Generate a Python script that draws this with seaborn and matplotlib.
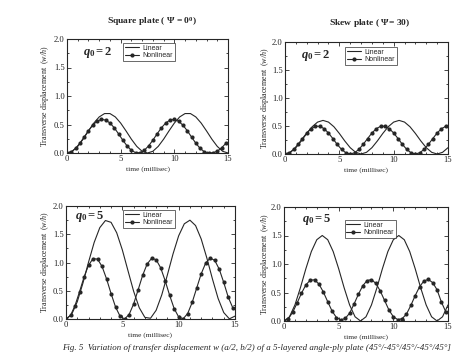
import matplotlib
matplotlib.use("Agg")
import matplotlib.pyplot as plt
import seaborn as sns
import pandas as pd
from matplotlib.ticker import MultipleLocator

# ---------------- data ----------------
t_lin = [0.0, 0.5, 1.0, 1.5, 2.0, 2.5, 3.0, 3.5, 4.0, 4.5, 5.0, 5.5, 6.0, 6.5, 7.0, 7.5,
         8.0, 8.5, 9.0, 9.5, 10.0, 10.5, 11.0, 11.5, 12.0, 12.5, 13.0, 13.5, 14.0, 14.5, 15.0]
t_nl = [0.0, 0.4, 0.8, 1.2, 1.6, 2.0, 2.4, 2.8, 3.2, 3.6, 4.0, 4.4, 4.8, 5.2, 5.6, 6.0,
        6.4, 6.8, 7.2, 7.6, 8.0, 8.4, 8.8, 9.2, 9.6, 10.0, 10.4, 10.8, 11.2, 11.6, 12.0,
        12.4, 12.8, 13.2, 13.6, 14.0, 14.4, 14.8]

sq_q2_linear = [0, .030, .116, .242, .387, .525, .633, .692, .692, .633, .525, .387, .242, .116, .030, 0,
                .030, .116, .242, .387, .525, .633, .692, .692, .633, .525, .387, .242, .116, .030, 0]
sq_q2_nonlinear = [0, .021, .082, .172, .281, .392, .488, .557, .589, .578, .527, .443, .337, .225, .124,
                   .047, .005, .005, .047, .124, .225, .337, .443, .527, .578, .589, .557, .488, .392,
                   .281, .172, .082, .021, 0, .005, .03, .09, .17]

sk_q2_linear = [0, .030, .113, .233, .367, .487, .570, .600, .570, .487, .367, .233, .113, .030, 0,
                .030, .113, .233, .367, .487, .570, .600, .570, .487, .367, .233, .113, .030, 0, .030, .113]
sk_q2_nonlinear = [0, .022, .083, .173, .276, .375, .452, .495, .495, .452, .375, .276, .173, .083, .022,
                   0, .022, .083, .173, .276, .375, .452, .495, .495, .452, .375, .276, .173, .083, .022,
                   0, .022, .083, .173, .276, .375, .452, .495]

sq_q5_linear = [0, .080, .305, .633, 1.006, 1.355, 1.617, 1.743, 1.711, 1.526, 1.223, .856, .493, .200,
                .029, .013, .154, .427, .781, 1.152, 1.473, 1.685, 1.749, 1.654, 1.416, 1.080, .707,
                .364, .114, .003, .051]
sq_q5_nonlinear = [0, .063, .237, .482, .741, .952, 1.068, 1.060, .930, .710, .450, .211, .049, .001,
                   .079, .265, .515, .771, .973, 1.074, 1.050, .907, .678, .418, .185, .036, .004,
                   .097, .294, .548, .800, .992, 1.078, 1.038, .882, .647, .386, .20]

sk_q5_linear = [0, .074, .282, .583, .917, 1.218, 1.426, 1.5, 1.426, 1.218, .917, .583, .282, .074, 0,
                .074, .282, .583, .917, 1.218, 1.426, 1.5, 1.426, 1.218, .917, .583, .282, .074, 0,
                .074, .282]
sk_q5_nonlinear = [0, .041, .155, .316, .488, .633, .717, .722, .647, .508, .338, .173, .06, .02, .045,
                   .137, .295, .467, .617, .710, .726, .660, .528, .360, .192, .075, .025, .04, .121,
                   .273, .446, .601, .703, .729, .673, .548, .33, .16]

col_titles = ["Square plate ( $\\Psi$ = 0$^0$)", "Skew plate ( $\\Psi$= 30)"]
load_labels = ["$q_0 = 2$", "$q_0 = 5$"]
series_names = ["Linear", "Nonlinear"]
x_label = "time (millisec)"
y_label = "Transverse displacement  ($\\mathsf{w/h}$)"
caption = ("Fig. 5  Variation of transfer displacement w (a/2, b/2) of a 5-layered angle-ply plate "
           "(45\u00b0/-45\u00b0/45\u00b0/-45\u00b0/45\u00b0]")

# ---------------- style ----------------
sns.set_theme(style="ticks")
plt.rcParams["font.family"] = ["Liberation Serif", "DejaVu Serif"]
plt.rcParams["mathtext.fontset"] = "custom"
plt.rcParams["mathtext.rm"] = "Liberation Serif:bold"
plt.rcParams["mathtext.it"] = "Liberation Serif:italic:bold"
plt.rcParams["mathtext.bf"] = "Liberation Serif:bold"
plt.rcParams["mathtext.sf"] = "Liberation Serif:italic"

W, H = 474, 353
fig = plt.figure(figsize=(W / 100, H / 100), dpi=100)
fig.patch.set_facecolor("white")

def px_axes(l, r, t, b):
    return fig.add_axes([l / W, (H - b) / H, (r - l) / W, (b - t) / H])

panels = [
    dict(box=(67, 228, 39, 153), lin=sq_q2_linear, nl=sq_q2_nonlinear, q=0, leg=(0.35, 0.965),
         qpos=(0.10, 0.885), ylab_x=45),
    dict(box=(285, 448, 42, 154), lin=sk_q2_linear, nl=sk_q2_nonlinear, q=0, leg=(0.37, 0.955),
         qpos=(0.10, 0.88), ylab_x=265),
    dict(box=(66, 235, 206, 319), lin=sq_q5_linear, nl=sq_q5_nonlinear, q=1, leg=(0.34, 0.965),
         qpos=(0.055, 0.91), ylab_x=45),
    dict(box=(284, 448, 207, 321), lin=sk_q5_linear, nl=sk_q5_nonlinear, q=1, leg=(0.37, 0.886),
         qpos=(0.11, 0.886), ylab_x=265),
]

ink = "#262626"
for i, p in enumerate(panels):
    l, r, t, b = p["box"]
    ax = px_axes(l, r, t, b)
    df_lin = pd.DataFrame({"t": t_lin, "w": p["lin"]})
    df_nl = pd.DataFrame({"t": t_nl, "w": p["nl"]})
    sns.lineplot(data=df_lin, x="t", y="w", ax=ax, color=ink, lw=0.8, label=series_names[0])
    sns.lineplot(data=df_nl, x="t", y="w", ax=ax, color=ink, lw=0.8, marker="o",
                 markersize=3.0, markeredgewidth=0, label=series_names[1])
    ax.set_xlim(0, 15)
    ax.set_ylim(0, 2.0)
    ax.xaxis.set_minor_locator(MultipleLocator(1))
    ax.yaxis.set_minor_locator(MultipleLocator(0.25))
    ax.set_yticks([0, 0.5, 1.0, 1.5, 2.0])
    ax.set_yticklabels(["0.0", "0.5", "1.0", "1.5", "2.0"])
    ax.set_xticks([0, 5, 10, 15])
    ax.set_xticklabels(["0", "5", "10", "15"])
    ax.tick_params(which="both", direction="in", top=True, right=True, color=ink, width=0.6)
    ax.tick_params(which="major", length=3, labelsize=6.2, pad=1.5, labelcolor=ink)
    ax.tick_params(which="minor", length=1.6)
    for s in ax.spines.values():
        s.set_linewidth(0.8)
        s.set_color(ink)
    ax.set_xlabel(x_label, fontsize=5.4, color=ink, labelpad=2)
    ax.set_ylabel("")
    fig.text(p["ylab_x"] / W, 1 - ((t + b) / 2) / H, y_label, rotation=90, ha="center",
             va="center", fontsize=5.8, color=ink)
    leg = ax.legend(loc="upper left", bbox_to_anchor=p["leg"], fontsize=5.0, frameon=True,
                    fancybox=False, edgecolor=ink, handlelength=2.0, handletextpad=0.5,
                    borderpad=0.25, labelspacing=0.1, borderaxespad=0)
    leg.get_frame().set_linewidth(0.6)
    for txt in leg.get_texts():
        txt.set_family(["Liberation Sans", "DejaVu Sans"])
        txt.set_color(ink)
    ax.text(p["qpos"][0], p["qpos"][1], load_labels[p["q"]], transform=ax.transAxes,
            ha="left", va="center", fontsize=9.0, color=ink)

fig.text(152 / W, 1 - 22 / H, col_titles[0], ha="center", va="center", fontsize=6.8,
         fontweight="bold", color=ink)
fig.text(370 / W, 1 - 23 / H, col_titles[1], ha="center", va="center", fontsize=6.8,
         fontweight="bold", color=ink)
fig.text(62 / W, 1 - 348 / H, caption, ha="left", va="center", fontsize=6.4,
         fontstyle="italic", color=ink)

fig.savefig("out.png", dpi=100, facecolor="white")
